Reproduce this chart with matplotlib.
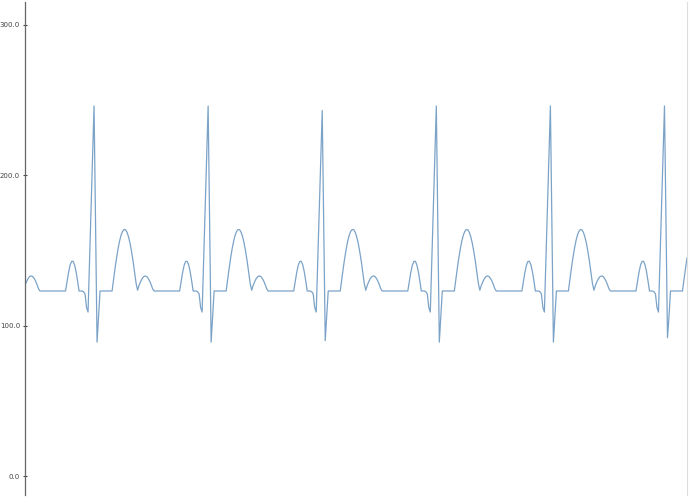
import matplotlib
matplotlib.use("Agg")
import matplotlib.pyplot as plt

# one heartbeat, sampled every 1.5 px in the picture, starting right after the S wave
beat = [123, 123, 123, 123, 123, 123, 123, 123, 123,               # flat
        130.7, 138.1, 145.0, 151.1, 156.2, 160.1, 162.7, 163.9,
        163.7, 162.0, 158.9, 154.6, 149.1, 142.8, 135.7, 128.1,    # T wave
        123.5,
        126.8, 129.2, 131.2, 132.5, 133.0, 132.7, 131.5, 129.7,
        127.3, 124.5,                                              # U wave
        123, 123, 123, 123, 123, 123, 123, 123, 123, 123, 123, 123,
        123, 123, 123, 123, 123,                                   # flat
        123, 129.0, 135.3, 140.0, 142.6, 142.8, 140.5, 136.0,
        129.9, 123,                                                # P wave
        123, 123, 122.5, 121,                                      # PR segment
        112, 109, 143, 177, 212, 246, 168, 90, 106]                # Q, R, S
R_IDX = 72
S_IDX = 74

# peak / trough of each visible beat (they differ a little)
r_peaks = [246, 246, 243, 246, 246, 246]
s_troughs = [89, 89, 90, 89, 89, 92]

first_offset = 26   # the trace starts inside the first beat
last_len = 12       # and ends just as the next T wave begins

yticks = [0.0, 100.0, 200.0, 300.0]


def main():
    values = []
    for k in range(len(r_peaks)):
        b = list(beat)
        b[R_IDX] = r_peaks[k]
        b[S_IDX] = s_troughs[k]
        if k == 0:
            b = b[first_offset:]
        values.extend(b)
    values.extend(beat[:last_len])
    xs = list(range(len(values)))

    fig = plt.figure(figsize=(6.89, 5.0), dpi=100)
    ax = fig.add_axes([25 / 689, 5 / 500, 662 / 689, 493 / 500])

    ax.plot(xs, values, color="#7ba3c8", linewidth=0.9)

    ax.set_xlim(0, len(values) - 1)
    ax.set_ylim(-12.6, 315.1)

    ax.set_yticks(yticks)
    ax.set_yticklabels(["{:.1f}".format(v) for v in yticks])
    ax.set_xticks([])
    ax.tick_params(axis="y", labelsize=5, colors="#444444", length=3,
                   width=0.8, pad=2, direction="inout")

    ax.spines["top"].set_visible(False)
    ax.spines["bottom"].set_visible(False)
    ax.spines["left"].set_color("#666666")
    ax.spines["left"].set_linewidth(0.9)
    ax.spines["right"].set_color("#dddddd")
    ax.spines["right"].set_linewidth(0.8)

    fig.savefig("out.png", dpi=100)


if __name__ == "__main__":
    main()
